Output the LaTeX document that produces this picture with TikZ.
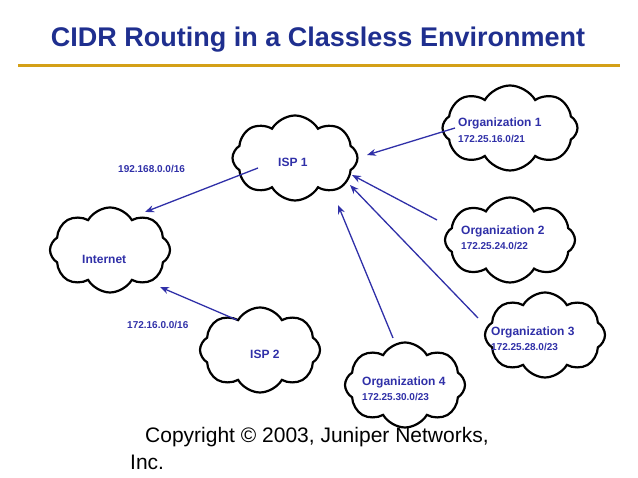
\documentclass[tikz,border=0pt]{standalone}
\usepackage{fontspec}
\setmainfont{Liberation Sans}
\usetikzlibrary{shapes.symbols,arrows.meta}
\definecolor{ttl}{HTML}{1F2F8F}
\definecolor{lbl}{HTML}{3030A8}
\definecolor{gold}{HTML}{D4A017}
\begin{document}
\begin{tikzpicture}[x=1pt,y=-1pt,
  cl/.style={cloud,cloud puffs=8,cloud puff arc=120,aspect=1.4,draw=black,line width=2.2pt,fill=white,minimum width=#1,minimum height=85,inner sep=0},
  cl/.default=120,
  t/.style={text=lbl,font=\bfseries\fontsize{12}{14}\selectfont,anchor=west,align=left,inner sep=0},
  tn/.style={text=lbl,font=\bfseries\fontsize{10}{12}\selectfont,anchor=west,inner sep=0},
  ar/.style={draw=lbl,line width=1.3pt,-{Stealth[length=9pt,width=7pt]}}]
\useasboundingbox (0,0) rectangle (638,478);
\node[font=\bfseries\fontsize{27}{30}\selectfont,text=ttl] (title) at (318,40) {CIDR Routing in a Classless Environment};
\draw[gold,line width=3pt] (18,66) coordinate (g1) -- (620,66) coordinate (g2);
\node[cl=135] (org1) at (510,128) {};
\node[cl=125] (isp1) at (295,158) {};
\node[cl=130] (org2) at (510,240) {};
\node[cl=120] (inet) at (110,250) {};
\node[cl=120] (isp2) at (260,350) {};
\node[cl=120] (org3) at (545,335) {};
\node[cl=120] (org4) at (405,385) {};
\node[t] (l1) at (458,123) {Organization 1};
\node[tn] (n1) at (458,139) {172.25.16.0/21};
\node[t] (l2) at (461,231) {Organization 2};
\node[tn] (n2) at (461,246) {172.25.24.0/22};
\node[t] (l3) at (491,332) {Organization 3};
\node[tn] (n3) at (491,347) {172.25.28.0/23};
\node[t] (l4) at (362,382) {Organization 4};
\node[tn] (n4) at (362,397) {172.25.30.0/23};
\node[t] (li) at (278,162) {ISP 1};
\node[t] (l2i) at (250,354) {ISP 2};
\node[t] (lin) at (82,259) {Internet};
\node[tn] (r1) at (118,169) {192.168.0.0/16};
\node[tn] (r2) at (127,325) {172.16.0.0/16};
\coordinate (a1) at (455,128); \coordinate (b1) at (367,155);
\coordinate (a2) at (437,220); \coordinate (b2) at (352,175);
\coordinate (a3) at (478,318); \coordinate (b3) at (350,185);
\coordinate (a4) at (393,338); \coordinate (b4) at (338,205);
\coordinate (a5) at (258,168); \coordinate (b5) at (145,212);
\coordinate (a6) at (237,320); \coordinate (b6) at (160,287);
\foreach \i in {1,...,6}{\draw[ar] (a\i) -- (b\i);}
\node[font=\fontsize{21}{27}\selectfont,anchor=north west,align=left,inner sep=0] (copy) at (130,427) {\hspace*{15pt}Copyright © 2003, Juniper Networks,\\Inc.};
\end{tikzpicture}
\end{document}
